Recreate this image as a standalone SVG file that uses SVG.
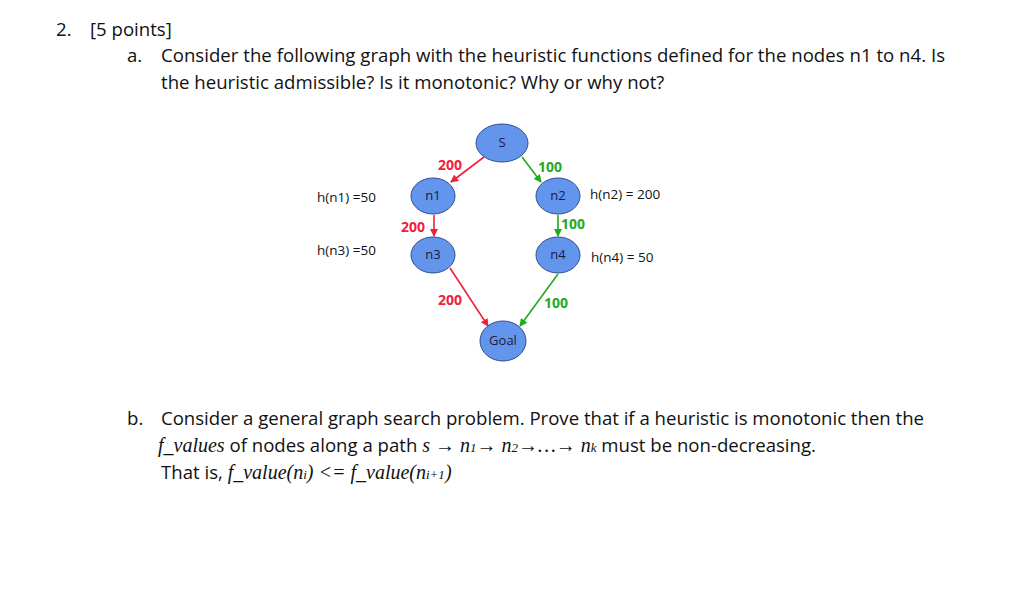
<svg xmlns="http://www.w3.org/2000/svg" width="1024" height="590" viewBox="0 0 1024 590">
<style>
text{font-family:"Open Sans","Liberation Sans",sans-serif;fill:#111}
.t{font-size:18.6px}
.m{font-family:"Liberation Serif",serif;font-style:italic}
.n ellipse{fill:#6495ED;stroke:#2F4F8F;stroke-width:1}
.n text{font-size:13px;text-anchor:middle;fill:#1a1a40}
.h{font-size:13.5px}
.r{stroke:#F0203C;stroke-width:1.6;fill:none}
.g{stroke:#1FAA1F;stroke-width:1.6;fill:none}
.lr{fill:#F0203C;font-weight:bold;font-size:14px}
.lg{fill:#1FAA1F;font-weight:bold;font-size:14px}
</style>
<defs>
<marker id="ar" markerWidth="8" markerHeight="8" refX="7" refY="4" orient="auto" markerUnits="userSpaceOnUse"><path d="M0,0L8,4L0,8z" fill="#F0203C"/></marker>
<marker id="ag" markerWidth="8" markerHeight="8" refX="7" refY="4" orient="auto" markerUnits="userSpaceOnUse"><path d="M0,0L8,4L0,8z" fill="#1FAA1F"/></marker>
</defs>
<rect width="1024" height="590" fill="#fff"/>
<text class="t" x="56" y="36">2.</text>
<text class="t" x="90" y="36">[5 points]</text>
<text class="t" x="127" y="62">a.</text>
<text class="t" x="161" y="62" textLength="784">Consider the following graph with the heuristic functions defined for the nodes n1 to n4. Is</text>
<text class="t" x="161" y="89">the heuristic admissible? Is it monotonic? Why or why not?</text>
<g id="edges">
<line class="r" x1="484" y1="157" x2="451" y2="182" marker-end="url(#ar)"/>
<line class="g" x1="522" y1="157" x2="541" y2="182" marker-end="url(#ag)"/>
<line class="r" x1="434" y1="215" x2="434" y2="236" marker-end="url(#ar)"/>
<line class="g" x1="558" y1="215" x2="558" y2="236" marker-end="url(#ag)"/>
<line class="r" x1="450" y1="268" x2="488" y2="326" marker-end="url(#ar)"/>
<line class="g" x1="558" y1="274" x2="520" y2="326" marker-end="url(#ag)"/>
<text class="lr" x="438" y="170">200</text>
<text class="lg" x="538" y="172">100</text>
<text class="lr" x="401" y="232">200</text>
<text class="lg" x="561" y="229">100</text>
<text class="lr" x="438" y="305">200</text>
<text class="lg" x="544" y="308">100</text>
</g>
<g id="S" class="n"><ellipse cx="502" cy="143" rx="26" ry="19"/><text x="502" y="147">S</text></g>
<g id="n1" class="n"><ellipse cx="433" cy="196" rx="22" ry="18"/><text x="433" y="200">n1</text></g>
<g id="n2" class="n"><ellipse cx="558" cy="196" rx="22" ry="18"/><text x="558" y="200">n2</text></g>
<g id="n3" class="n"><ellipse cx="433" cy="255" rx="22" ry="18"/><text x="433" y="259">n3</text></g>
<g id="n4" class="n"><ellipse cx="558" cy="255" rx="22" ry="18"/><text x="558" y="259">n4</text></g>
<g id="Goal" class="n"><ellipse cx="503" cy="341" rx="23" ry="20"/><text x="503" y="345">Goal</text></g>
<text class="h" x="317" y="202">h(n1) =50</text>
<text class="h" x="317" y="255">h(n3) =50</text>
<text class="h" x="590" y="199">h(n2) = 200</text>
<text class="h" x="591" y="262">h(n4) = 50</text>
<text class="t" x="127" y="425">b.</text>
<text class="t" x="161" y="425" textLength="763">Consider a general graph search problem. Prove that if a heuristic is monotonic then the</text>
<text class="t" x="158" y="452"><tspan class="m" font-size="20">f_values</tspan> of nodes along a path <tspan class="m" font-size="20">s → n<tspan font-size="13">1</tspan>→ n<tspan font-size="13">2</tspan>→…→ n<tspan font-size="13">k</tspan></tspan> must be non-decreasing.</text>
<text class="t" x="161" y="479">That is, <tspan class="m" font-size="20">f_value(n<tspan font-size="13">i</tspan>) &lt;= f_value(n<tspan font-size="13">i+1</tspan>)</tspan></text>
</svg>
